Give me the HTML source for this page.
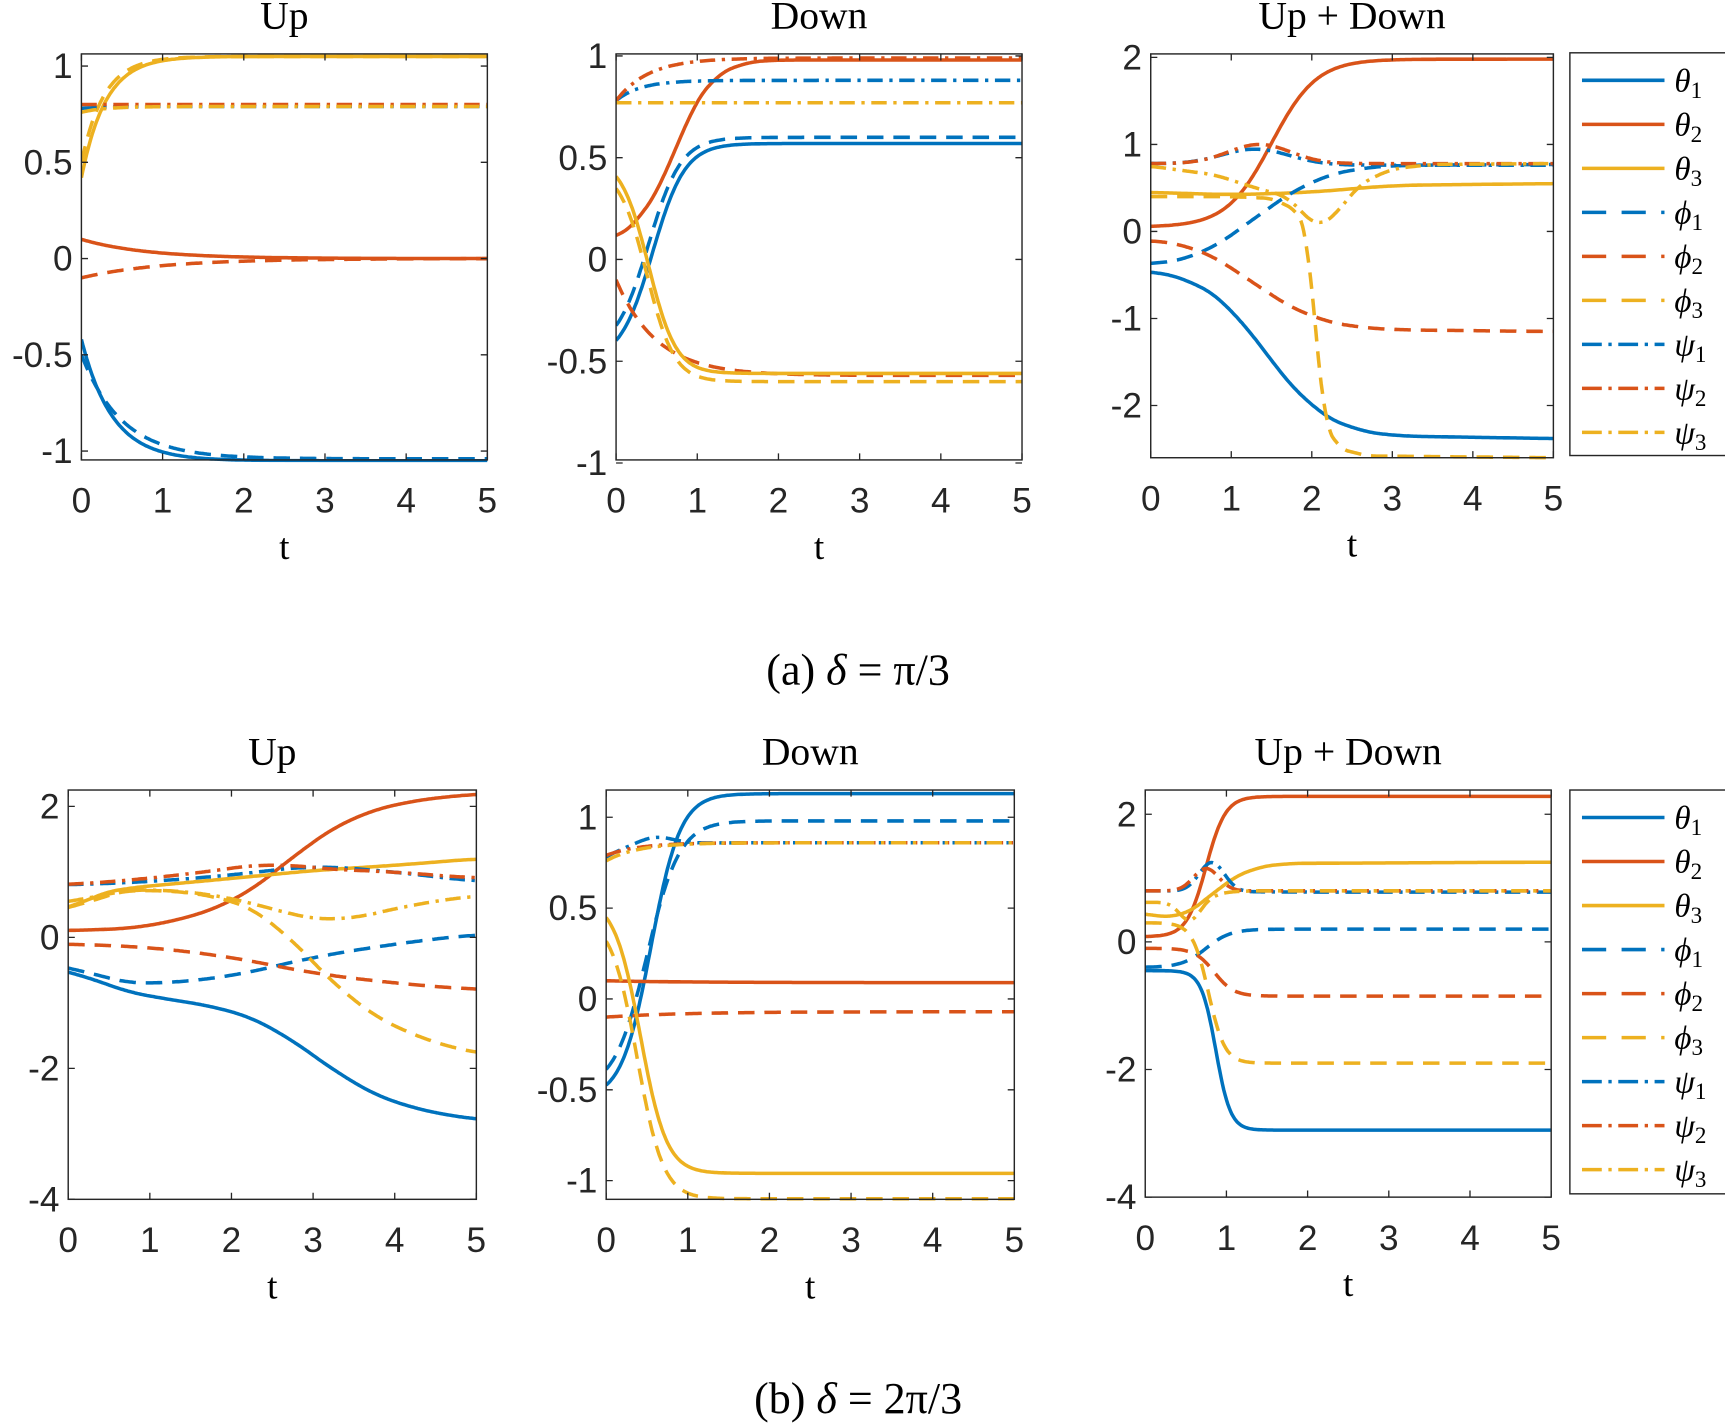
<!DOCTYPE html>
<html><head><meta charset="utf-8"><style>
html,body{margin:0;padding:0;background:#fff;}
svg{display:block;}
.tk{font-family:"Liberation Sans",sans-serif;font-size:32px;fill:#262626;}
.sf{font-family:"Liberation Serif",serif;fill:#000;}
</style></head><body>
<svg id="s" width="1725" height="1426" viewBox="0 0 1568 1296" preserveAspectRatio="none" xmlns="http://www.w3.org/2000/svg">
<rect width="1568" height="1296" fill="#fff"/>
<g id="g"></g>
<text class="sf" x="780" y="622" font-size="40" text-anchor="middle">(a) <tspan font-style="italic">δ</tspan> = π/3</text>
<text class="sf" x="780" y="1284" font-size="40" text-anchor="middle">(b) <tspan font-style="italic">δ</tspan> = 2π/3</text>
</svg>
<script>
const B='#0072BD',O='#D95319',Y='#EDB120';
const SOL='',DASH='15,9',DD='14,6,3,6';
const sig=(a,b,t0,w)=>t=>a+(b-a)/(1+Math.exp(-(t-t0)/w));
const ex=(a,b,tau)=>t=>a+(b-a)*(1-Math.exp(-t/tau));
const bump=(f,A,c,s)=>t=>f(t)+A*Math.exp(-Math.pow((t-c)/s,2));
function smooth(f,st){st=st||0.06;return t=>{let s=0,n=0;for(let k=-5;k<=5;k++){const tt=Math.min(5,Math.max(0,t+k*st));s+=f(tt);n++;}return s/n;};}
function lin(P){return t=>{for(let i=0;i<P.length-1;i++){if(t<=P[i+1][0]){const[x0,y0]=P[i],[x1,y1]=P[i+1];const u=(t-x0)/(x1-x0);return y0+(y1-y0)*u;}}return P[P.length-1][1];};}
const pts=(P,st)=>smooth(lin(P),st);
const g=document.getElementById('g');let h='';
function panel(o){
 const {x0,x1,y0,y1,ymin,ymax,yt,title,curves}=o;
 const X=t=>x0+(x1-x0)*t/5, Yv=v=>y1-(y1-y0)*(v-ymin)/(ymax-ymin);
 h+=`<defs><clipPath id="c${x0}_${y0}"><rect x="${x0}" y="${y0-2}" width="${x1-x0}" height="${y1-y0+4}"/></clipPath></defs>`;
 h+=`<g clip-path="url(#c${x0}_${y0})">`;
 for(const [f,col,da] of curves){let d='';for(let i=0;i<=300;i++){const t=5*i/300;d+=(i?'L':'M')+X(t).toFixed(1)+','+Yv(f(t)).toFixed(1);}
  h+=`<path d="${d}" fill="none" stroke="${col}" stroke-width="3.2" ${da?`stroke-dasharray="${da}"`:''}/>`;}
 h+='</g>';
 h+=`<rect x="${x0}" y="${y0}" width="${x1-x0}" height="${y1-y0}" fill="none" stroke="#262626" stroke-width="1.3"/>`;
 for(let i=0;i<=5;i++){const x=X(i);h+=`<path d="M${x},${y1}v-6M${x},${y0}v6" stroke="#262626" stroke-width="1.2"/><text class="tk" x="${x}" y="${y1+48}" text-anchor="middle">${i}</text>`;}
 for(const v of yt){const y=Yv(v);h+=`<path d="M${x0},${y}h6M${x1},${y}h-6" stroke="#262626" stroke-width="1.2"/><text class="tk" x="${x0-8}" y="${y+11}" text-anchor="end">${v}</text>`;}
 h+=`<text class="sf" x="${(x0+x1)/2}" y="${y1+90}" font-size="34" text-anchor="middle">t</text>`;
 h+=`<text class="sf" x="${(x0+x1)/2}" y="${y0-23}" font-size="36" text-anchor="middle">${title}</text>`;
}
function legend(y0,y1){
 h+=`<rect x="1427" y="${y0}" width="145" height="${y1-y0}" fill="#fff" stroke="#262626" stroke-width="1.3"/>`;
 const L=[['θ',1,B,SOL],['θ',2,O,SOL],['θ',3,Y,SOL],['ϕ',1,B,DASH],['ϕ',2,O,DASH],['ϕ',3,Y,DASH],['ψ',1,B,DD],['ψ',2,O,DD],['ψ',3,Y,DD]];
 L.forEach((e,i)=>{const y=y0+25+i*40;h+=`<path d="M1438,${y}H1513" stroke="${e[2]}" stroke-width="3.2" ${e[3]?`stroke-dasharray="${e[3]==DASH?'22,14':'18,6,3,6'}"`:''}/><text class="sf" x="1522" y="${y+10}" font-size="30" font-style="italic">${e[0]}<tspan font-style="normal" font-size="21" dy="6">${e[1]}</tspan></text>`;});
}
// Row a
panel({x0:74,x1:443,y0:49,y1:418,ymin:-1.046,ymax:1.063,yt:[1,0.5,0,-0.5,-1],title:'Up',curves:[
 [ex(-0.42,-1.05,0.38),B,SOL],[ex(-0.5,-1.04,0.5),B,DASH],
 [ex(0.1,0,0.8),O,SOL],[ex(-0.1,0,1.0),O,DASH],
 [ex(0.42,1.05,0.3),Y,SOL],[ex(0.5,1.05,0.28),Y,DASH],
 [ex(0.78,0.79,0.3),B,DD],[ex(0.8,0.8,0.3),O,DD],[ex(0.76,0.79,0.3),Y,DD]]});
panel({x0:560,x1:929,y0:49,y1:418,ymin:-0.985,ymax:1.01,yt:[1,0.5,0,-0.5,-1],title:'Down',curves:[
 [sig(-0.5,0.57,0.45,0.2),B,SOL],[sig(-0.45,0.6,0.4,0.2),B,DASH],
 [pts([[0,0.1],[0.3,0.2],[0.6,0.4],[0.9,0.72],[1.2,0.9],[1.6,0.97],[2,0.98],[5,0.98]],0.04),O,SOL],[ex(-0.1,-0.57,0.5),O,DASH],
 [sig(0.5,-0.56,0.4,0.17),Y,SOL],[sig(0.45,-0.6,0.38,0.17),Y,DASH],
 [ex(0.78,0.88,0.3),B,DD],[ex(0.78,0.99,0.4),O,DD],[ex(0.77,0.77,0.3),Y,DD]]});
panel({x0:1046,x1:1412,y0:49,y1:416,ymin:-2.6,ymax:2.04,yt:[2,1,0,-1,-2],title:'Up + Down',curves:[
 [pts([[0,-0.45],[0.5,-0.55],[1,-0.85],[1.5,-1.5],[2,-2.05],[2.5,-2.28],[3,-2.35],[5,-2.38]],0.07),B,SOL],
 [sig(0.05,1.98,1.5,0.28),O,SOL],
 [pts([[0,0.45],[1,0.42],[2,0.45],[3,0.53],[5,0.55]],0.08),Y,SOL],
 [pts([[0,-0.38],[0.6,-0.3],[1,-0.05],[1.5,0.3],[2,0.6],[2.5,0.72],[3,0.76],[5,0.77]],0.08),B,DASH],
 [pts([[0,-0.1],[0.5,-0.15],[1,-0.4],[1.5,-0.75],[2,-1.0],[2.5,-1.1],[3,-1.13],[5,-1.15]],0.08),O,DASH],
 [pts([[0,0.4],[1,0.4],[1.5,0.38],[1.8,0.25],[1.95,0.0],[2.05,-1.2],[2.15,-2.2],[2.35,-2.5],[2.7,-2.58],[5,-2.6]],0.02),Y,DASH],
 [bump(ex(0.78,0.76,1),0.18,1.3,0.6),B,DD],[bump(ex(0.78,0.78,1),0.22,1.35,0.55),O,DD],
 [pts([[0,0.75],[0.8,0.65],[1.3,0.5],[1.7,0.4],[2.0,0.1],[2.1,0.05],[2.3,0.2],[2.6,0.55],[3,0.72],[3.5,0.77],[5,0.78]],0.03),Y,DD]]});
legend(48,414);
// Row b
panel({x0:62,x1:433,y0:718,y1:1090,ymin:-4,ymax:2.25,yt:[2,0,-2,-4],title:'Up',curves:[
 [pts([[0,-0.45],[0.5,-0.78],[1,-0.9],[2,-1.1],[2.5,-1.35],[3,-1.8],[3.5,-2.25],[4,-2.55],[5,-2.8]],0.09),B,SOL],
 [pts([[0,0.1],[1,0.15],[2,0.5],[2.5,0.95],[3,1.5],[3.5,1.85],[4,2.05],[5,2.2]],0.09),O,SOL],
 [pts([[0,0.4],[0.3,0.65],[0.7,0.75],[2,0.9],[3,1.02],[4,1.1],[5,1.2]],0.06),Y,SOL],
 [pts([[0,-0.4],[0.5,-0.68],[1,-0.72],[2,-0.6],[3,-0.3],[4,-0.1],[5,0.05]],0.09),B,DASH],
 [pts([[0,-0.1],[1,-0.15],[2,-0.3],[3,-0.55],[4,-0.7],[5,-0.8]],0.09),O,DASH],
 [pts([[0,0.35],[0.3,0.65],[1,0.75],[2,0.6],[2.5,0.3],[3,-0.4],[3.5,-1.0],[4,-1.4],[5,-1.8]],0.09),Y,DASH],
 [pts([[0,0.8],[1,0.85],[2,0.95],[3,1.1],[4,1.0],[5,0.85]],0.09),B,DD],
 [pts([[0,0.8],[1,0.9],[2,1.05],[2.5,1.15],[3,1.05],[4,1.0],[5,0.9]],0.09),O,DD],
 [pts([[0,0.5],[0.5,0.7],[1,0.75],[2,0.62],[2.7,0.35],[3.3,0.22],[4,0.45],[5,0.65]],0.09),Y,DD]]});
panel({x0:551,x1:922,y0:718,y1:1090,ymin:-1.103,ymax:1.15,yt:[1,0.5,0,-0.5,-1],title:'Down',curves:[
 [sig(-0.55,1.13,0.55,0.18),B,SOL],[sig(-0.5,0.98,0.5,0.2),B,DASH],
 [ex(0.1,0.09,1),O,SOL],[ex(-0.1,-0.07,1),O,DASH],
 [sig(0.55,-0.96,0.42,0.16),Y,SOL],[sig(0.45,-1.1,0.38,0.16),Y,DASH],
 [bump(ex(0.78,0.86,0.3),0.04,0.6,0.3),B,DD],[ex(0.79,0.86,0.4),O,DD],[ex(0.76,0.86,0.4),Y,DD]]});
panel({x0:1041,x1:1410,y0:718,y1:1088,ymin:-4,ymax:2.38,yt:[2,0,-2,-4],title:'Up + Down',curves:[
 [sig(-0.45,-2.95,0.87,0.09),B,SOL],[sig(0.08,2.28,0.75,0.12),O,SOL],
 [pts([[0,0.45],[0.4,0.35],[0.7,0.6],[1,0.95],[1.3,1.15],[1.7,1.23],[5,1.25]],0.05),Y,SOL],
 [sig(-0.4,0.2,0.75,0.15),B,DASH],[sig(-0.1,-0.85,0.85,0.12),O,DASH],
 [sig(0.3,-1.9,0.78,0.1),Y,DASH],
 [bump(sig(0.8,0.78,1,0.3),0.45,0.82,0.22),B,DD],[bump(sig(0.8,0.8,1,0.3),0.35,0.75,0.22),O,DD],
 [bump(sig(0.62,0.8,0.8,0.12),-0.3,0.55,0.18),Y,DD]]});
legend(718,1085);
g.innerHTML=h;
</script>
</body></html>
